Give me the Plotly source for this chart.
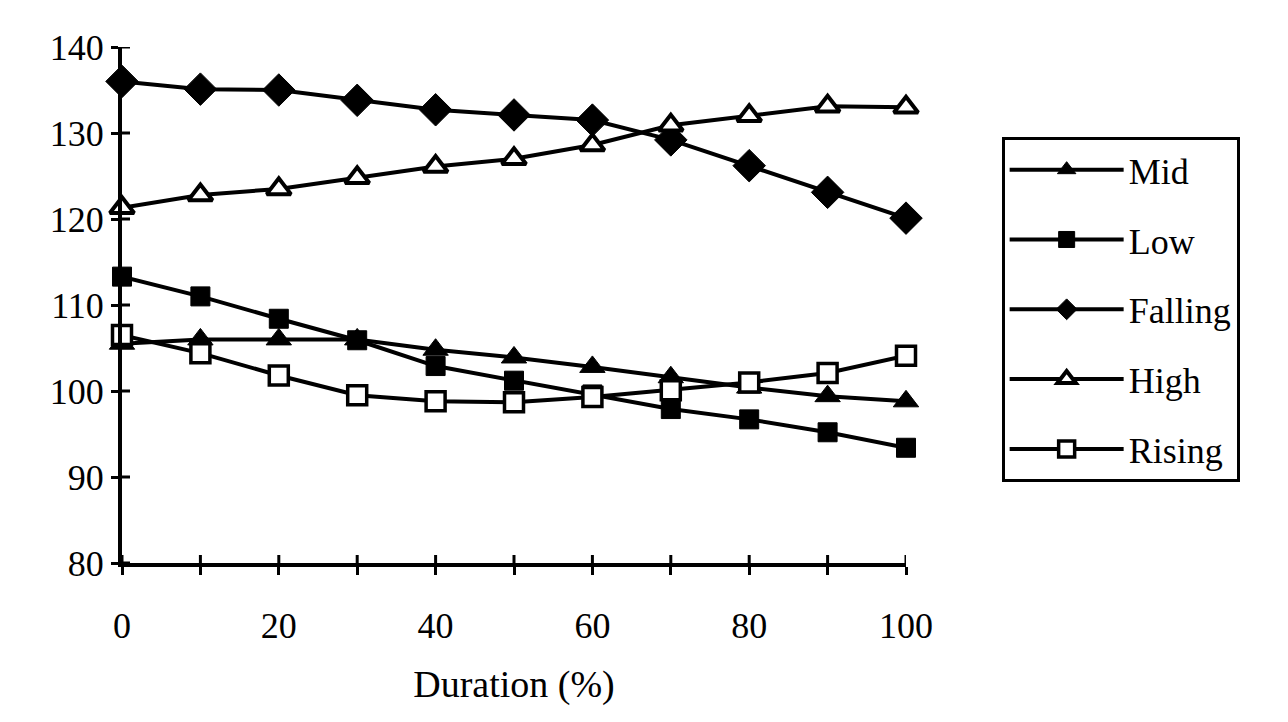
import plotly.graph_objects as go

duration = [0, 10, 20, 30, 40, 50, 60, 70, 80, 90, 100]
mid = [105.5, 106.0, 106.0, 106.0, 104.8, 103.9, 102.8, 101.6, 100.4, 99.4, 98.8]
low = [113.3, 111.0, 108.4, 105.9, 102.9, 101.2, 99.6, 97.9, 96.7, 95.2, 93.4]
falling = [136.0, 135.1, 135.0, 133.8, 132.7, 132.1, 131.5, 129.2, 126.2, 123.1, 120.1]
high = [121.3, 122.8, 123.5, 124.8, 126.1, 127.0, 128.6, 130.9, 132.0, 133.1, 133.0]
rising = [106.5, 104.4, 101.8, 99.5, 98.8, 98.7, 99.3, 100.1, 101.0, 102.1, 104.1]

x_tickvals = [0, 10, 20, 30, 40, 50, 60, 70, 80, 90, 100]
x_ticktext = ["0", "", "20", "", "40", "", "60", "", "80", "", "100"]
y_tickvals = [80, 90, 100, 110, 120, 130, 140]

FONT = "Liberation Serif"

series = [
    ("Mid", mid, dict(symbol="triangle-up", size=22, color="black", line=dict(color="black", width=1))),
    ("Low", low, dict(symbol="square", size=19, color="black", line=dict(color="black", width=1))),
    ("Falling", falling, dict(symbol="diamond", size=25, color="black", line=dict(color="black", width=1))),
    ("High", high, dict(symbol="triangle-up", size=21, color="white", line=dict(color="black", width=4))),
    ("Rising", rising, dict(symbol="square", size=19, color="white", line=dict(color="black", width=3.5))),
]

fig = go.Figure()
for name, vals, mk in series:
    fig.add_trace(go.Scatter(
        x=duration, y=vals, name=name, mode="lines+markers",
        line=dict(color="black", width=4), marker=mk,
        cliponaxis=False, legendgroup=name,
    ))

# inward halves of the tick marks (ticks cross the axis lines in the original)
x_min, y_min = x_tickvals[0], y_tickvals[0]
for xv in x_tickvals:
    fig.add_shape(type="line", xref="x", yref="y", ysizemode="pixel", yanchor=y_min,
                  x0=xv, x1=xv, y0=0, y1=8, line=dict(color="black", width=3), layer="above")
for yv in y_tickvals:
    fig.add_shape(type="line", xref="x", yref="y", xsizemode="pixel", xanchor=x_min,
                  x0=0, x1=8, y0=yv, y1=yv, line=dict(color="black", width=3), layer="above")

fig.update_layout(
    width=1288, height=722,
    margin=dict(l=122, r=382, t=47, b=159),
    paper_bgcolor="white", plot_bgcolor="white",
    font=dict(family=FONT, size=36, color="black"),
    showlegend=True,
    legend=dict(
        x=1.122, y=0.826, xanchor="left", yanchor="top",
        bordercolor="black", borderwidth=3,
        font=dict(family=FONT, size=36, color="black"),
        tracegroupgap=20, itemwidth=114,
        bgcolor="white",
    ),
    xaxis=dict(
        range=[0, 100], tickvals=x_tickvals, ticktext=x_ticktext,
        showline=True, linecolor="black", linewidth=4,
        ticks="outside", ticklen=8, tickwidth=3, tickcolor="black",
        showgrid=False, zeroline=False,
        ticklabelstandoff=20,
        title=dict(text="Duration (%)", standoff=26, font=dict(family=FONT, size=38)),
    ),
    yaxis=dict(
        range=[80, 140], tickvals=y_tickvals,
        showline=True, linecolor="black", linewidth=4,
        ticks="outside", ticklen=7, tickwidth=3, tickcolor="black",
        showgrid=False, zeroline=False,
    ),
)

fig.write_html("out.html")
